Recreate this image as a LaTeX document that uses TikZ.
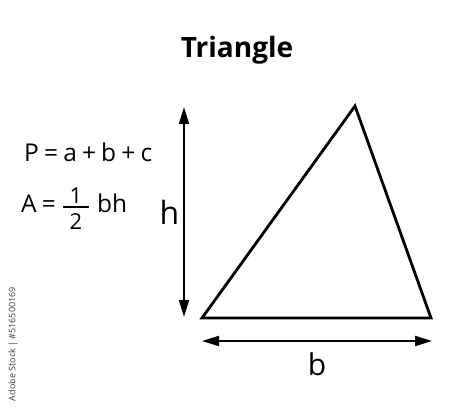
\documentclass[tikz,border=0pt]{standalone}
\usepackage{fontspec}
\setmainfont{Open Sans}
\usetikzlibrary{arrows.meta}
\begin{document}
\begin{tikzpicture}[x=1pt,y=-1pt,
  edge/.style={line width=2.8pt, line join=miter},
  dim/.style={line width=2pt, {Triangle[length=17pt,width=10pt]}-{Triangle[length=17pt,width=10pt]}},
  lbl/.style={inner sep=0pt, font=\fontsize{32}{36}\selectfont},
  frm/.style={inner sep=0pt, anchor=base west, font=\fontsize{24.5}{28}\selectfont},
  digit/.style={inner sep=0pt, font=\fontsize{22}{26}\selectfont}]
\useasboundingbox (0,0) rectangle (474,414);
\fill[white] (0,0) rectangle (474,414);
% title
\node[inner sep=0pt, anchor=base, font=\bfseries\fontsize{28}{32}\selectfont] (title) at (237,58) {Triangle};
% triangle
\coordinate (bl) at (202,318);
\coordinate (top) at (355,106);
\coordinate (br) at (431,318);
\draw[edge] (bl) -- (top) -- (br) -- cycle;
% height arrow
\coordinate (ht) at (184,107);
\coordinate (hb) at (184,317);
\draw[dim] (hb) -- (ht);
\node[lbl] (h) at (169.5,212) {h};
% base arrow
\coordinate (bb1) at (202,341);
\coordinate (bb2) at (432,341);
\draw[dim] (bb1) -- (bb2);
\node[lbl, font=\fontsize{30}{34}\selectfont] (b) at (317,364) {b};
% formulas
\node[frm] (perim) at (24,162) {P\hspace{0.21em}=\hspace{0.21em}a\hspace{0.21em}+\hspace{0.21em}b\hspace{0.21em}+\hspace{0.21em}c};
\node[frm] (area) at (21,213) {A\hspace{0.21em}=};
\node[digit, anchor=base] (one) at (76,204) {1};
\node[digit, anchor=base] (two) at (76,230) {2};
\coordinate (fl) at (63,207);
\coordinate (fr) at (89,207);
\draw[line width=1.8pt] (fl) -- (fr);
\node[frm] (bh) at (97,213) {bh};
% stock id
\node[inner sep=0pt, rotate=90, anchor=east, text=black!75, font=\fontsize{9}{11}\selectfont] (stock) at (13,287) {Adobe Stock | \#516500169};
\end{tikzpicture}
\end{document}
